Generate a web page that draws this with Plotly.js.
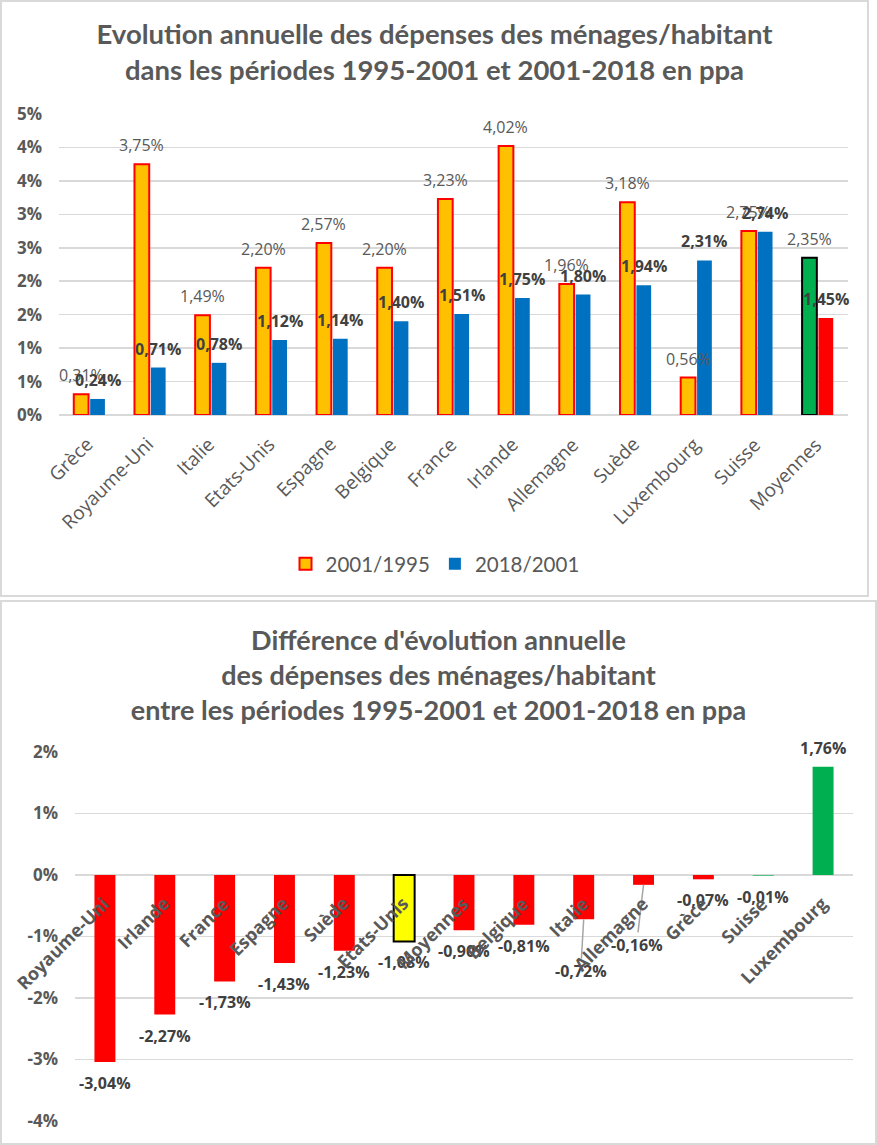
<!DOCTYPE html>
<html><head><meta charset="utf-8">
<script src="https://cdn.plot.ly/plotly-3.0.1.min.js"></script>
<style>
body{margin:0;background:#fff;width:877px;height:1145px;position:relative;overflow:hidden}
#c1{position:absolute;left:0;top:0;width:869px;height:596px}
#c2{position:absolute;left:0;top:600px;width:877px;height:545px}
.frame{position:absolute;border:2px solid #d9d9d9;box-sizing:border-box;pointer-events:none}
</style></head><body>
<div id="c1"></div><div id="c2"></div>
<div class="frame" style="left:0;top:0;width:869px;height:597px"></div>
<div class="frame" style="left:0;top:600px;width:877px;height:545px"></div>
<script>
// ---------- data: top chart ----------
const categories = ['Grèce','Royaume-Uni','Italie','Etats-Unis','Espagne','Belgique','France','Irlande','Allemagne','Suède','Luxembourg','Suisse','Moyennes'];
const serie2001_1995 = [0.31, 3.75, 1.49, 2.20, 2.57, 2.20, 3.23, 4.02, 1.96, 3.18, 0.56, 2.75, 2.35];
const serie2018_2001 = [0.24, 0.71, 0.78, 1.12, 1.14, 1.40, 1.51, 1.75, 1.80, 1.94, 2.31, 2.74, 1.45];
const seriesNames = ['2001/1995', '2018/2001'];
const yTickVals1 = [0, 0.5, 1, 1.5, 2, 2.5, 3, 3.5, 4, 4.5];
const yTickText1 = ['0%', '1%', '1%', '2%', '2%', '3%', '3%', '4%', '4%', '5%'];
const title1 = 'Evolution annuelle des dépenses des ménages/habitant<br>dans les périodes 1995-2001 et 2001-2018 en ppa';

// ---------- data: bottom chart ----------
const diffCategories = ['Royaume-Uni','Irlande','France','Espagne','Suède','Etats-Unis','Moyennes','Belgique','Italie','Allemagne','Grèce','Suisse','Luxembourg'];
const diffValues = [-3.04, -2.27, -1.73, -1.43, -1.23, -1.08, -0.90, -0.81, -0.72, -0.16, -0.07, -0.01, 1.76];
const yTickVals2 = [-4, -3, -2, -1, 0, 1, 2];
const yTickText2 = ['-4%', '-3%', '-2%', '-1%', '0%', '1%', '2%'];
const title2 = "Différence d'évolution annuelle<br>des dépenses des ménages/habitant<br>entre les périodes 1995-2001 et 2001-2018 en ppa";

// ---------- helpers / styles ----------
const fmt = v => v.toFixed(2).replace('.', ',') + '%';
const TITLE_FONT1 = {family: 'Lato', size: 27.5, color: '#595959', weight: 'bold'};
const TITLE_FONT2 = {family: 'Lato', size: 27, color: '#595959', weight: 'bold'};
const TICK_FONT = {family: 'Open Sans', size: 17, color: '#595959', weight: 'bold'};
const GRID = '#d9d9d9';

// ================= TOP CHART =================
const W1 = 869, H1 = 596, M1 = {l: 59, r: 21, t: 114, b: 181};
const bargap1 = 0.46;
const plotW1 = W1 - M1.l - M1.r, plotH1 = H1 - M1.t - M1.b;
const catW = plotW1 / categories.length;
const barOff = catW * (1 - bargap1) / 4;

const isAvg = c => c === 'Moyennes';
const t1 = {
  type: 'bar', name: seriesNames[0], x: categories, y: serie2001_1995,
  marker: {
    color: categories.map(c => isAvg(c) ? '#00B050' : '#FFC000'),
    line: {color: categories.map(c => isAvg(c) ? '#000000' : '#FF0000'), width: 2}
  },
  hoverinfo: 'skip'
};
const t2 = {
  type: 'bar', name: seriesNames[1], x: categories, y: serie2018_2001,
  marker: {color: categories.map(c => isAvg(c) ? '#FF0000' : '#0070C0'), line: {width: 0}},
  hoverinfo: 'skip'
};

const ann1 = [];
categories.forEach((c, i) => {
  ann1.push({x: c, y: serie2001_1995[i], xref: 'x', yref: 'y', text: fmt(serie2001_1995[i]),
    showarrow: false, xshift: -barOff, yshift: 19, yanchor: 'middle',
    font: {family: 'Open Sans', size: 16, color: '#595959'}});
  ann1.push({x: c, y: serie2018_2001[i], xref: 'x', yref: 'y', text: fmt(serie2018_2001[i]),
    showarrow: false, xshift: barOff, yshift: 19, yanchor: 'middle',
    font: {family: 'Open Sans', size: 16, color: '#404040', weight: 'bold'}});
  // category label, rotated, hanging below the axis
  ann1.push({x: c, y: 0, xref: 'x', yref: 'y', text: c, showarrow: false, textangle: -45,
    xanchor: 'right', yanchor: 'top', xshift: 12, yshift: -14,
    font: {family: 'Open Sans', size: 19, color: '#595959'}});
});

const layout1 = {
  width: W1, height: H1, margin: M1,
  paper_bgcolor: '#fff', plot_bgcolor: '#fff',
  title: {text: title1, font: TITLE_FONT1, x: 0.5, xanchor: 'center', xref: 'container',
          y: 1 - 44 / H1, yref: 'container', yanchor: 'top'},
  barmode: 'group', bargap: bargap1, bargroupgap: 0.1,
  xaxis: {type: 'category', range: [-0.5, categories.length - 0.5], showticklabels: false, ticks: '',
          showgrid: false, showline: false, zeroline: false, automargin: false},
  yaxis: {range: [0, 4.5], tickmode: 'array', tickvals: yTickVals1, ticktext: yTickText1, automargin: false,
          tickfont: TICK_FONT, gridcolor: GRID, gridwidth: 1.5, zeroline: true, zerolinecolor: GRID,
          zerolinewidth: 1.5, showline: false, ticks: '', ticklabelstandoff: 16},
  showlegend: true,
  legend: {orientation: 'h', x: (435 - M1.l) / plotW1, xanchor: 'center', xref: 'paper',
           y: -(564 - (H1 - M1.b)) / plotH1, yanchor: 'middle',
           font: {family: 'Lato', size: 20.5, color: '#595959'}, itemclick: false},
  annotations: ann1
};
Plotly.newPlot('c1', [t1, t2], layout1, {staticPlot: true});

// ================= BOTTOM CHART =================
const W2 = 877, H2 = 545, M2 = {l: 75, r: 24, t: 152, b: 24};
const greenCats = ['Suisse', 'Luxembourg'];
const highlightCat = 'Etats-Unis';
const barColor = c => c === highlightCat ? '#FFFF00' : (greenCats.includes(c) ? '#00B050' : '#FF0000');
const t3 = {
  type: 'bar', x: diffCategories, y: diffValues, showlegend: false, hoverinfo: 'skip',
  marker: {color: diffCategories.map(barColor),
           line: {color: '#000000', width: diffCategories.map(c => c === highlightCat ? 2 : 0)}}
};
const leaders = {'Italie': {ax: -3, ay: 52}, 'Allemagne': {ax: -7, ay: 60}};
const ann2 = [];
diffCategories.forEach((c, i) => {
  const v = diffValues[i];
  const f = {family: 'Open Sans', size: 16, color: '#404040', weight: 'bold'};
  if (leaders[c]) {
    ann2.push({x: c, y: v, xref: 'x', yref: 'y', text: fmt(v), showarrow: true, arrowhead: 0,
      arrowcolor: '#a6a6a6', arrowwidth: 1.5, ax: leaders[c].ax, ay: leaders[c].ay, font: f});
  } else {
    ann2.push({x: c, y: v, xref: 'x', yref: 'y', text: fmt(v), showarrow: false,
      yshift: v < 0 ? -21 : 19, yanchor: 'middle', font: f});
  }
  ann2.push({x: c, y: 0, xref: 'x', yref: 'y', text: c, showarrow: false, textangle: -45,
    xanchor: 'right', yanchor: 'top', xshift: 12, yshift: -14,
    font: {family: 'Open Sans', size: 18, color: '#595959', weight: 'bold'}});
});
const layout2 = {
  width: W2, height: H2, margin: M2,
  paper_bgcolor: '#fff', plot_bgcolor: '#fff',
  title: {text: title2, font: TITLE_FONT2, x: 0.5, xanchor: 'center', xref: 'container',
          y: 1 - 50 / H2, yref: 'container', yanchor: 'top'},
  bargap: 0.65,
  xaxis: {type: 'category', range: [-0.5, diffCategories.length - 0.5], showticklabels: false, ticks: '',
          showgrid: false, showline: false, zeroline: false},
  yaxis: {range: [-4, 2], tickmode: 'array', tickvals: yTickVals2, ticktext: yTickText2,
          tickfont: TICK_FONT, gridcolor: GRID, gridwidth: 1.5, zeroline: true, zerolinecolor: GRID,
          zerolinewidth: 1.5, showline: false, ticks: '', ticklabelstandoff: 16},
  annotations: ann2
};
Plotly.newPlot('c2', [t3], layout2, {staticPlot: true});
</script>
</body></html>
